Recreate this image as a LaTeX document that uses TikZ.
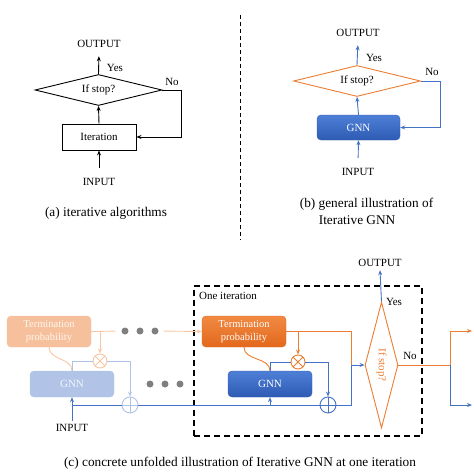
\documentclass[tikz,border=0pt]{standalone}
\usepackage{fontspec}
\setmainfont{Liberation Serif}
\usetikzlibrary{shapes.geometric,arrows.meta}
\definecolor{myorange}{HTML}{ED7D31}
\definecolor{orangetop}{HTML}{F28A43}
\definecolor{orangebot}{HTML}{E2681C}
\definecolor{myblue}{HTML}{4472C4}
\definecolor{gnntop}{HTML}{4E7FD6}
\definecolor{gnnbot}{HTML}{2E5BB4}
\definecolor{fadeorange}{HTML}{F7C7A5}
\definecolor{fadeorangefill}{HTML}{F6C09C}
\definecolor{fadeblue}{HTML}{AFC3E6}
\definecolor{fadebluefill}{HTML}{B1C4E7}
\definecolor{dotgray}{HTML}{7F7F7F}
\tikzset{
  captext/.style={font=\fontsize{13.3}{17}\selectfont},
  lbl/.style={font=\fontsize{11}{13}\selectfont},
  blk/.style={draw=black, line width=0.9pt},
  bl/.style={draw=myblue, line width=0.9pt},
  orl/.style={draw=myorange, line width=0.9pt},
  fbl/.style={draw=fadeblue, line width=0.9pt},
  forl/.style={draw=fadeorange, line width=0.9pt},
  dia/.style={shape=diamond, draw, inner sep=0pt, aspect=4, minimum width=127pt, minimum height=31pt, line width=0.9pt},
  vdia/.style={shape=diamond, draw=myorange, text=myorange, inner sep=0pt, aspect=0.26, minimum width=33pt, minimum height=126pt, line width=0.9pt},
  iterbox/.style={draw=black, line width=0.9pt, minimum width=74pt, minimum height=26pt},
  gnnbox/.style={rounded corners=4pt, minimum width=84pt, minimum height=26pt, text=white, top color=gnntop, bottom color=gnnbot, draw=gnnbot, line width=0.4pt},
  gnnfade/.style={rounded corners=4pt, minimum width=84pt, minimum height=26pt, text=white!85!fadebluefill, fill=fadebluefill, draw=fadebluefill, line width=0.4pt},
  termbox/.style={rounded corners=4pt, minimum width=84pt, minimum height=31pt, align=center, font=\fontsize{10.5}{13}\selectfont, text=white, top color=orangetop, bottom color=orangebot, draw=orangebot, line width=0.4pt},
  termfade/.style={rounded corners=4pt, minimum width=84pt, minimum height=31pt, align=center, font=\fontsize{10.5}{13}\selectfont, text=white!85!fadeorangefill, fill=fadeorangefill, draw=fadeorangefill, line width=0.4pt},
  mult/.style={circle, draw=#1, fill=white, line width=0.9pt, minimum size=14pt, inner sep=0pt,
    path picture={\draw[#1, line width=0.9pt] (path picture bounding box.north west) -- (path picture bounding box.south east) (path picture bounding box.north east) -- (path picture bounding box.south west);}},
  addc/.style={circle, draw=#1, fill=white, line width=0.9pt, minimum size=16pt, inner sep=0pt,
    path picture={\draw[#1, line width=0.9pt] (path picture bounding box.north) -- (path picture bounding box.south) (path picture bounding box.west) -- (path picture bounding box.east);}},
  graydot/.style={circle, fill=dotgray, minimum size=7pt, inner sep=0pt},
  arr/.style={-{Stealth[length=5pt,width=4pt]}},
}
\begin{document}
\begin{tikzpicture}[x=1pt,y=-1pt, font=\fontsize{11}{13}\selectfont]
\useasboundingbox (0,0) rectangle (474,474);

% ---------- (a) ----------
\node (aout) at (99,44) {OUTPUT};
\node[dia] (astop) at (98.5,90) {If stop?};
\node[iterbox] (ait) at (99,137) {Iteration};
\node (ain) at (99,182) {INPUT};
\node (ayes) at (115,68) {Yes};
\node (ano) at (172,82) {No};
\node[captext] (acap) at (106,213) {(a) iterative algorithms};
\draw[blk, arr, shorten >=5pt] (astop.north) -- (aout.south);
\draw[blk, arr] (ait.north) -- (astop.south);
\draw[blk, arr] (astop.east) -- ++(19,0) |- (ait.east);
\draw[blk, arr, shorten <=7pt] (ain.north) -- (ait.south);

% divider
\draw[black, line width=0.8pt, dash pattern=on 4pt off 3pt] (240,15) -- (240,240);

% ---------- (b) ----------
\node (bout) at (358,33) {OUTPUT};
\node[dia, draw=myorange] (bstop) at (357,81) {If stop?};
\node[gnnbox, minimum width=83pt, minimum height=25pt] (bgnn) at (358.5,127.5) {GNN};
\node (bin) at (358,172) {INPUT};
\node (byes) at (374,58) {Yes};
\node (bno) at (432,72) {No};
\node[captext, align=left] (bcap) at (366.5,211.5) {(b) general illustration of\\\hspace*{19pt}Iterative GNN};
\draw[bl, arr, shorten >=5pt] (bstop.north) -- (bout.south);
\draw[bl, arr] (bgnn.north) -- (bstop.south);
\draw[bl, arr] (bstop.east) -- ++(19,0) |- (bgnn.east);
\draw[bl, arr, shorten <=7pt] (bin.north) -- (bgnn.south);

% ---------- (c) ----------
\node[draw=black, line width=1.1pt, dash pattern=on 6pt off 4pt, minimum width=228pt, minimum height=150pt, inner sep=0pt] (onebox) at (308,361) {};
\node (onelab) at (228,296) {One iteration};

% faded previous iteration
\node[termfade] (t0) at (49,331.5) {Termination\\probability};
\node[gnnfade] (g0) at (72,384) {GNN};
\node[mult=fadeorange] (m0) at (100,361) {};
\node[addc=fadeblue] (p0) at (130,405) {};
\node[graydot] (d1) at (125,331) {};
\node[graydot] (d2) at (140,331) {};
\node[graydot] (d3) at (155,331) {};
\node[graydot] (e1) at (150,384) {};
\node[graydot] (e2) at (165,384) {};
\node[graydot] (e3) at (180,384) {};
\node (cin) at (72,428) {INPUT};

% current iteration
\node[termbox] (t1) at (244,331.5) {Termination\\probability};
\node[gnnbox] (g1) at (270,384) {GNN};
\node[mult=myorange] (m1) at (298,362) {};
\node[addc=myblue] (p1) at (328,405) {};
\node[vdia] (cstop) at (381.5,365) {\rotatebox{-90}{If stop?}};
\node (cout) at (380,263) {OUTPUT};
\node (cyes) at (394,302) {Yes};
\node (cno) at (410,356) {No};
\coordinate (j1) at (351,365);
\coordinate (j2) at (450,365);
\coordinate (o1) at (472,331);
\coordinate (o2) at (472,405);

% faded connectors
\draw[forl, shorten >=6pt] (t0.east) -- (d1.west);
\draw[forl, arr] (m0.north |- t0.east) -- (m0.north);
\draw[forl] (t0.south) to[out=-90,in=90] (g0.north);
\draw[fbl] (g0.north) |- (m0.west);
\draw[fbl, arr] (m0.east) -| (p0.north);
\draw[forl, arr, shorten <=5pt] (d3.east) -- (t1.west);

% input line
\draw[bl, arr] (cin.north) -- (g0.south);
\draw[bl] (g0.south |- p0.west) -- (p0.west);
\draw[bl] (p0.east) -- (p1.west);
\draw[bl, arr] (g1.south |- p1.west) -- (g1.south);

% current iteration connectors
\draw[orl] (t1.east) -| (j1);
\draw[orl, arr] (m1.north |- t1.east) -- (m1.north);
\draw[orl] (t1.south) to[out=-90,in=90] (g1.north);
\draw[bl] (g1.north) |- (m1.west);
\draw[bl, arr] (m1.east) -| (p1.north);
\draw[bl] (p1.east) -| (j1);
\draw[bl, arr] (j1) -- (cstop.west);
\draw[bl, arr] (cstop.north) -- (cout.south);
\draw[orl] (cstop.east) -- (j2);
\draw[orl, arr] (j2) |- (o1);
\draw[bl, arr] (j2) |- (o2);

\node[captext] (ccap) at (240,463) {(c) concrete unfolded illustration of Iterative GNN at one iteration};
\end{tikzpicture}
\end{document}
